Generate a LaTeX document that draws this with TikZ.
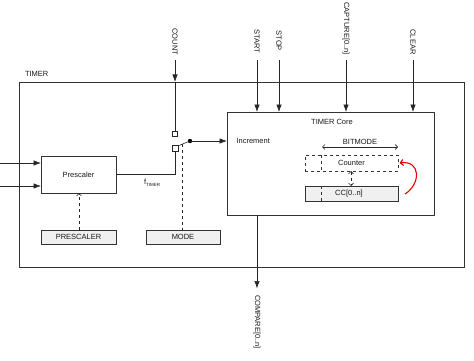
\documentclass[tikz,border=0pt]{standalone}
\usepackage{fontspec}
\setmainfont{Liberation Sans}
\usetikzlibrary{arrows.meta,calc}
\tikzset{
  lbl/.style={font=\fontsize{7.5}{9}\selectfont, inner sep=0pt, outer sep=0pt, text=black!90},
  blk/.style={draw=black!80, line width=0.7pt, inner sep=0pt, outer sep=0pt, anchor=north west, font=\fontsize{7.5}{9}\selectfont, text=black!90},
  grayblk/.style={blk, fill=gray!12},
  sig/.style={-{Latex[length=7.5pt,width=5.5pt]}, line width=0.7pt, draw=black!85},
  wire/.style={line width=0.7pt, draw=black!85},
  sq/.style={draw=black!85, minimum size=5.5pt, inner sep=0pt, outer sep=0pt, line width=0.6pt, fill=white},
  barb/.tip={Straight Barb[length=2.5pt,width=5pt]},
}
\begin{document}
\begin{tikzpicture}[x=1pt,y=-1pt]
\useasboundingbox (0,0) rectangle (474,361);

% outer TIMER box
\node[blk, minimum width=445pt, minimum height=185pt] (timer) at (19,82) {};
\node[lbl, anchor=west] (timerlbl) at (25,73.5) {TIMER};

% TIMER core
\node[blk, minimum width=207pt, minimum height=103pt] (core) at (227,112) {};
\node[lbl] (corelbl) at (332,122) {TIMER Core};
\node[lbl, anchor=west] (incr) at (236.5,141) {Increment};

% Prescaler
\node[blk, minimum width=75pt, minimum height=37pt] (pre) at (41,156) {Prescaler};
\node[grayblk, minimum width=75pt, minimum height=14pt] (prereg) at (41,230) {PRESCALER};
\node[grayblk, minimum width=74pt, minimum height=14pt] (mode) at (146,230) {MODE};

% input arrows to prescaler
\coordinate (in1) at (0,163);
\coordinate (in2) at (0,186);
\draw[sig] (in1) -- (in1 -| pre.west);
\draw[sig] (in2) -- (in2 -| pre.west);

% dashed prescaler control
\draw[wire, dashed, -barb, line width=0.6pt] (prereg.north -| 79,0) -- (pre.south -| 79,0);

% switch squares
\node[sq] (sq1) at (175,134) {};
\node[sq] (sq2) at (175.5,148.5) {};
\node[circle, fill=black, inner sep=0pt, minimum size=4.4pt] (dot) at (190,141) {};

% COUNT input
\node[lbl, rotate=-90, anchor=east] (count) at (175,55) {COUNT};
\coordinate (countin) at (175,82);
\draw[sig] ($(count.east)+(0,5)$) -- (countin);
\draw[wire] (countin) -- (sq1.north);

% prescaler output to switch
\draw[wire] (pre.east) -- (pre.east -| sq2.south) -- (sq2.south);
\node[lbl, anchor=west] (ftimer) at (144,183) {f\raisebox{-1.6pt}{\fontsize{4.5}{5}\selectfont TIMER}};

% switch
\draw[wire, line width=0.6pt] (sq2.north east) -- (dot.center);
\draw[sig] (dot.center) -- (dot.center -| core.west);
\coordinate (sw) at ($(sq2.north east)!0.33!(dot.center)$);
\draw[wire, dashed, line width=0.6pt] (sw) -- (sw |- mode.north);

% core inputs
\node[lbl, rotate=-90, anchor=east] (start) at (257,53) {START};
\node[lbl, rotate=-90, anchor=east] (stop) at (279,51) {STOP};
\node[lbl, rotate=-90, anchor=east] (capture) at (346,55) {CAPTURE[0..n]};
\node[lbl, rotate=-90, anchor=east] (clear) at (413,54.5) {CLEAR};
\draw[sig] (start.east |- 0,60) -- (start.east |- core.north);
\draw[sig] (stop.east |- 0,60) -- (stop.east |- core.north);
\draw[sig] (capture.east |- 0,60) -- (capture.east |- core.north);
\draw[sig] (clear.east |- 0,60) -- (clear.east |- core.north);

% compare output
\node[lbl, rotate=-90, anchor=west] (compare) at (257,295) {COMPARE[0..n]};
\draw[sig] (compare.west |- core.south) -- ($(compare.west)+(0,-6.5)$);

% BITMODE
\node[lbl] (bitmode) at (360,141.5) {BITMODE};
\coordinate (bm1) at (322,147);
\coordinate (bm2) at (398,147);
\draw[wire, line width=0.55pt, barb-barb] (bm1) -- (bm2);

% Counter and CC
\node[blk, dashed, minimum width=93pt, minimum height=16pt] (counter) at (305,155) {Counter};
\draw[dashed, line width=0.7pt, draw=black!80] ([xshift=16pt]counter.north west) -- ([xshift=16pt]counter.south west);
\node[grayblk, minimum width=93pt, minimum height=15pt] (cc) at (305,186) {\hspace*{-5pt}CC[0..n]};
\draw[dashed, line width=0.7pt, draw=black!80] ([xshift=16pt]cc.north west) -- ([xshift=16pt]cc.south west);
\draw[wire, dashed, line width=0.6pt, barb-barb] (counter.south -| 351,0) -- (cc.north -| 351,0);

% red arrow
\coordinate (rs) at (405,194);
\draw[red!90!black, line width=1.1pt, -{Straight Barb[length=3pt,width=6pt]}] (rs) .. controls (421,184) and (421,160) .. ([xshift=1.5pt]counter.east);
\end{tikzpicture}
\end{document}
